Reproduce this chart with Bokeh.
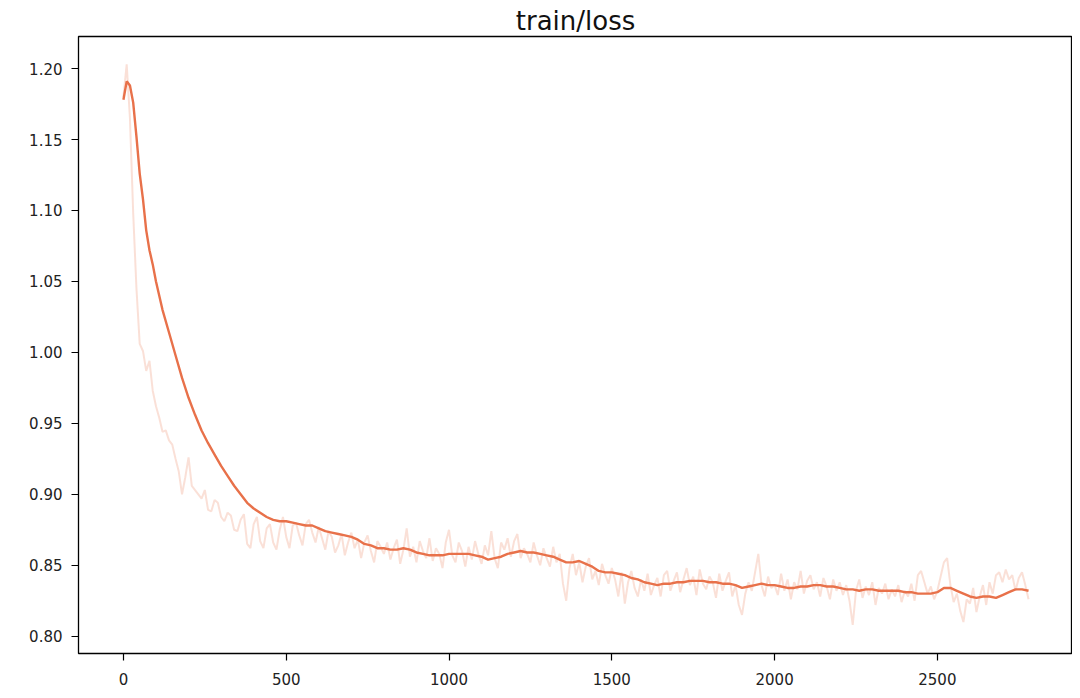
from bokeh.plotting import figure
from bokeh.models import Range1d, FixedTicker, NumeralTickFormatter
from bokeh.embed import file_html
from bokeh.resources import INLINE

# ---- data ----
raw_steps = list(range(0, 2790, 10))
raw_loss = [
    1.180, 1.203, 1.165, 1.098, 1.045, 1.006, 1.001, 0.987, 0.994, 0.973,
    0.962, 0.954, 0.944, 0.945, 0.938, 0.935, 0.925, 0.916, 0.900, 0.912,
    0.926, 0.906, 0.903, 0.900, 0.897, 0.903, 0.889, 0.888, 0.896, 0.894,
    0.884, 0.881, 0.887, 0.885, 0.875, 0.874, 0.882, 0.886, 0.865, 0.862,
    0.879, 0.884, 0.867, 0.862, 0.876, 0.879, 0.866, 0.861, 0.875, 0.884,
    0.870, 0.862, 0.878, 0.880, 0.871, 0.864, 0.879, 0.882, 0.873, 0.866,
    0.877, 0.869, 0.861, 0.874, 0.870, 0.859, 0.864, 0.872, 0.857, 0.866,
    0.873, 0.862, 0.868, 0.855, 0.866, 0.871, 0.860, 0.852, 0.867, 0.863,
    0.858, 0.866, 0.854, 0.862, 0.868, 0.851, 0.861, 0.876, 0.856, 0.863,
    0.852, 0.867, 0.860, 0.855, 0.869, 0.853, 0.862, 0.858, 0.848, 0.866,
    0.875, 0.857, 0.852, 0.866, 0.860, 0.849, 0.863, 0.854, 0.867, 0.858,
    0.851, 0.864, 0.857, 0.874, 0.855, 0.848, 0.866, 0.861, 0.869, 0.856,
    0.867, 0.872, 0.855, 0.862, 0.858, 0.852, 0.866, 0.857, 0.850, 0.862,
    0.855, 0.849, 0.863, 0.852, 0.858, 0.837, 0.825, 0.848, 0.858, 0.843,
    0.852, 0.838, 0.849, 0.855, 0.840, 0.846, 0.836, 0.851, 0.843, 0.837,
    0.848, 0.840, 0.828, 0.845, 0.823, 0.838, 0.846, 0.834, 0.828, 0.840,
    0.832, 0.844, 0.829, 0.836, 0.841, 0.828, 0.843, 0.846, 0.832, 0.839,
    0.845, 0.831, 0.840, 0.848, 0.836, 0.842, 0.829, 0.847, 0.837, 0.833,
    0.842, 0.838, 0.827, 0.844, 0.832, 0.839, 0.845, 0.828, 0.836, 0.822,
    0.815, 0.830, 0.838, 0.832, 0.845, 0.858, 0.836, 0.828, 0.842, 0.834,
    0.836, 0.829, 0.844, 0.832, 0.840, 0.826, 0.838, 0.833, 0.846, 0.830,
    0.839, 0.843, 0.833, 0.838, 0.828, 0.841, 0.835, 0.826, 0.840, 0.832,
    0.838, 0.829, 0.836, 0.825, 0.808, 0.832, 0.840, 0.827, 0.835, 0.829,
    0.838, 0.822, 0.834, 0.830, 0.837, 0.826, 0.833, 0.828, 0.836, 0.824,
    0.832, 0.828, 0.837, 0.825, 0.843, 0.846, 0.838, 0.830, 0.835, 0.826,
    0.832, 0.842, 0.852, 0.855, 0.836, 0.824, 0.830, 0.818, 0.810, 0.826,
    0.823, 0.834, 0.817, 0.828, 0.836, 0.822, 0.838, 0.830, 0.843, 0.845,
    0.838, 0.847, 0.840, 0.843, 0.832, 0.841, 0.845, 0.836, 0.826,
]

smooth_steps = [0, 10, 20, 30, 40, 50, 60, 70, 80, 90] + list(range(100, 2790, 20))
smooth_loss = [
    1.178, 1.191, 1.188, 1.176, 1.152, 1.126, 1.108, 1.086, 1.072, 1.062,
    1.050, 1.030, 1.014, 0.998, 0.982, 0.968, 0.956, 0.945, 0.936, 0.928,
    0.920, 0.913, 0.906, 0.900, 0.894, 0.890, 0.887, 0.884, 0.882, 0.881,
    0.881, 0.880, 0.879, 0.878, 0.878, 0.876, 0.874, 0.873, 0.872, 0.871,
    0.870, 0.868, 0.865, 0.864, 0.862, 0.862, 0.861, 0.861, 0.862, 0.861,
    0.859, 0.858, 0.857, 0.857, 0.857, 0.858, 0.858, 0.858, 0.858, 0.857,
    0.856, 0.854, 0.855, 0.856, 0.858, 0.859, 0.860, 0.859, 0.859, 0.858,
    0.857, 0.856, 0.854, 0.852, 0.852, 0.853, 0.851, 0.849, 0.846, 0.845,
    0.845, 0.844, 0.843, 0.841, 0.840, 0.838, 0.837, 0.836, 0.837, 0.837,
    0.838, 0.838, 0.839, 0.839, 0.839, 0.838, 0.838, 0.837, 0.837, 0.836,
    0.834, 0.835, 0.836, 0.837, 0.836, 0.836, 0.835, 0.834, 0.834, 0.835,
    0.835, 0.836, 0.836, 0.835, 0.835, 0.834, 0.833, 0.833, 0.832, 0.833,
    0.833, 0.832, 0.832, 0.832, 0.832, 0.831, 0.831, 0.830, 0.830, 0.830,
    0.831, 0.834, 0.834, 0.832, 0.830, 0.828, 0.827, 0.828, 0.828, 0.827,
    0.829, 0.831, 0.833, 0.833, 0.832,
]

x_ticks = [0, 500, 1000, 1500, 2000, 2500]
y_ticks = [0.80, 0.85, 0.90, 0.95, 1.00, 1.05, 1.10, 1.15, 1.20]

LINE_COLOR = "#E8714A"
FONT = "DejaVu Sans"

p = figure(
    frame_width=994, frame_height=617,
    x_range=Range1d(-138, 2915), y_range=Range1d(0.7878, 1.2226),
    output_backend="svg", toolbar_location=None,
    min_border_left=78, min_border_right=0, min_border_top=36, min_border_bottom=0,
)

p.line(raw_steps, raw_loss, line_color=LINE_COLOR, line_alpha=0.22, line_width=2)
p.line(smooth_steps, smooth_loss, line_color=LINE_COLOR, line_width=2.4)

p.title.text = "train/loss"
p.title.align = "center"
p.title.text_font = FONT
p.title.text_font_size = "26px"
p.title.text_font_style = "normal"
p.title.text_color = "#111111"
p.title.standoff = 2
p.title.offset = 0

p.xgrid.visible = False
p.ygrid.visible = False
p.outline_line_color = "black"
p.outline_line_width = 1.3
p.outline_line_alpha = 1.0

p.xaxis.ticker = FixedTicker(ticks=x_ticks)
p.yaxis.ticker = FixedTicker(ticks=y_ticks)
p.yaxis.formatter = NumeralTickFormatter(format="0.00")

for ax in (p.xaxis[0], p.yaxis[0]):
    ax.axis_line_color = None
    ax.major_tick_in = 0
    ax.major_tick_out = 7
    ax.major_tick_line_color = "black"
    ax.major_tick_line_width = 1.2
    ax.minor_tick_line_color = None
    ax.major_label_text_font = FONT
    ax.major_label_text_font_size = "15px"
    ax.major_label_text_color = "#222222"
    ax.major_label_standoff = 9
p.xaxis[0].major_label_standoff = 12

open("out.html", "w").write(file_html(p, INLINE))
